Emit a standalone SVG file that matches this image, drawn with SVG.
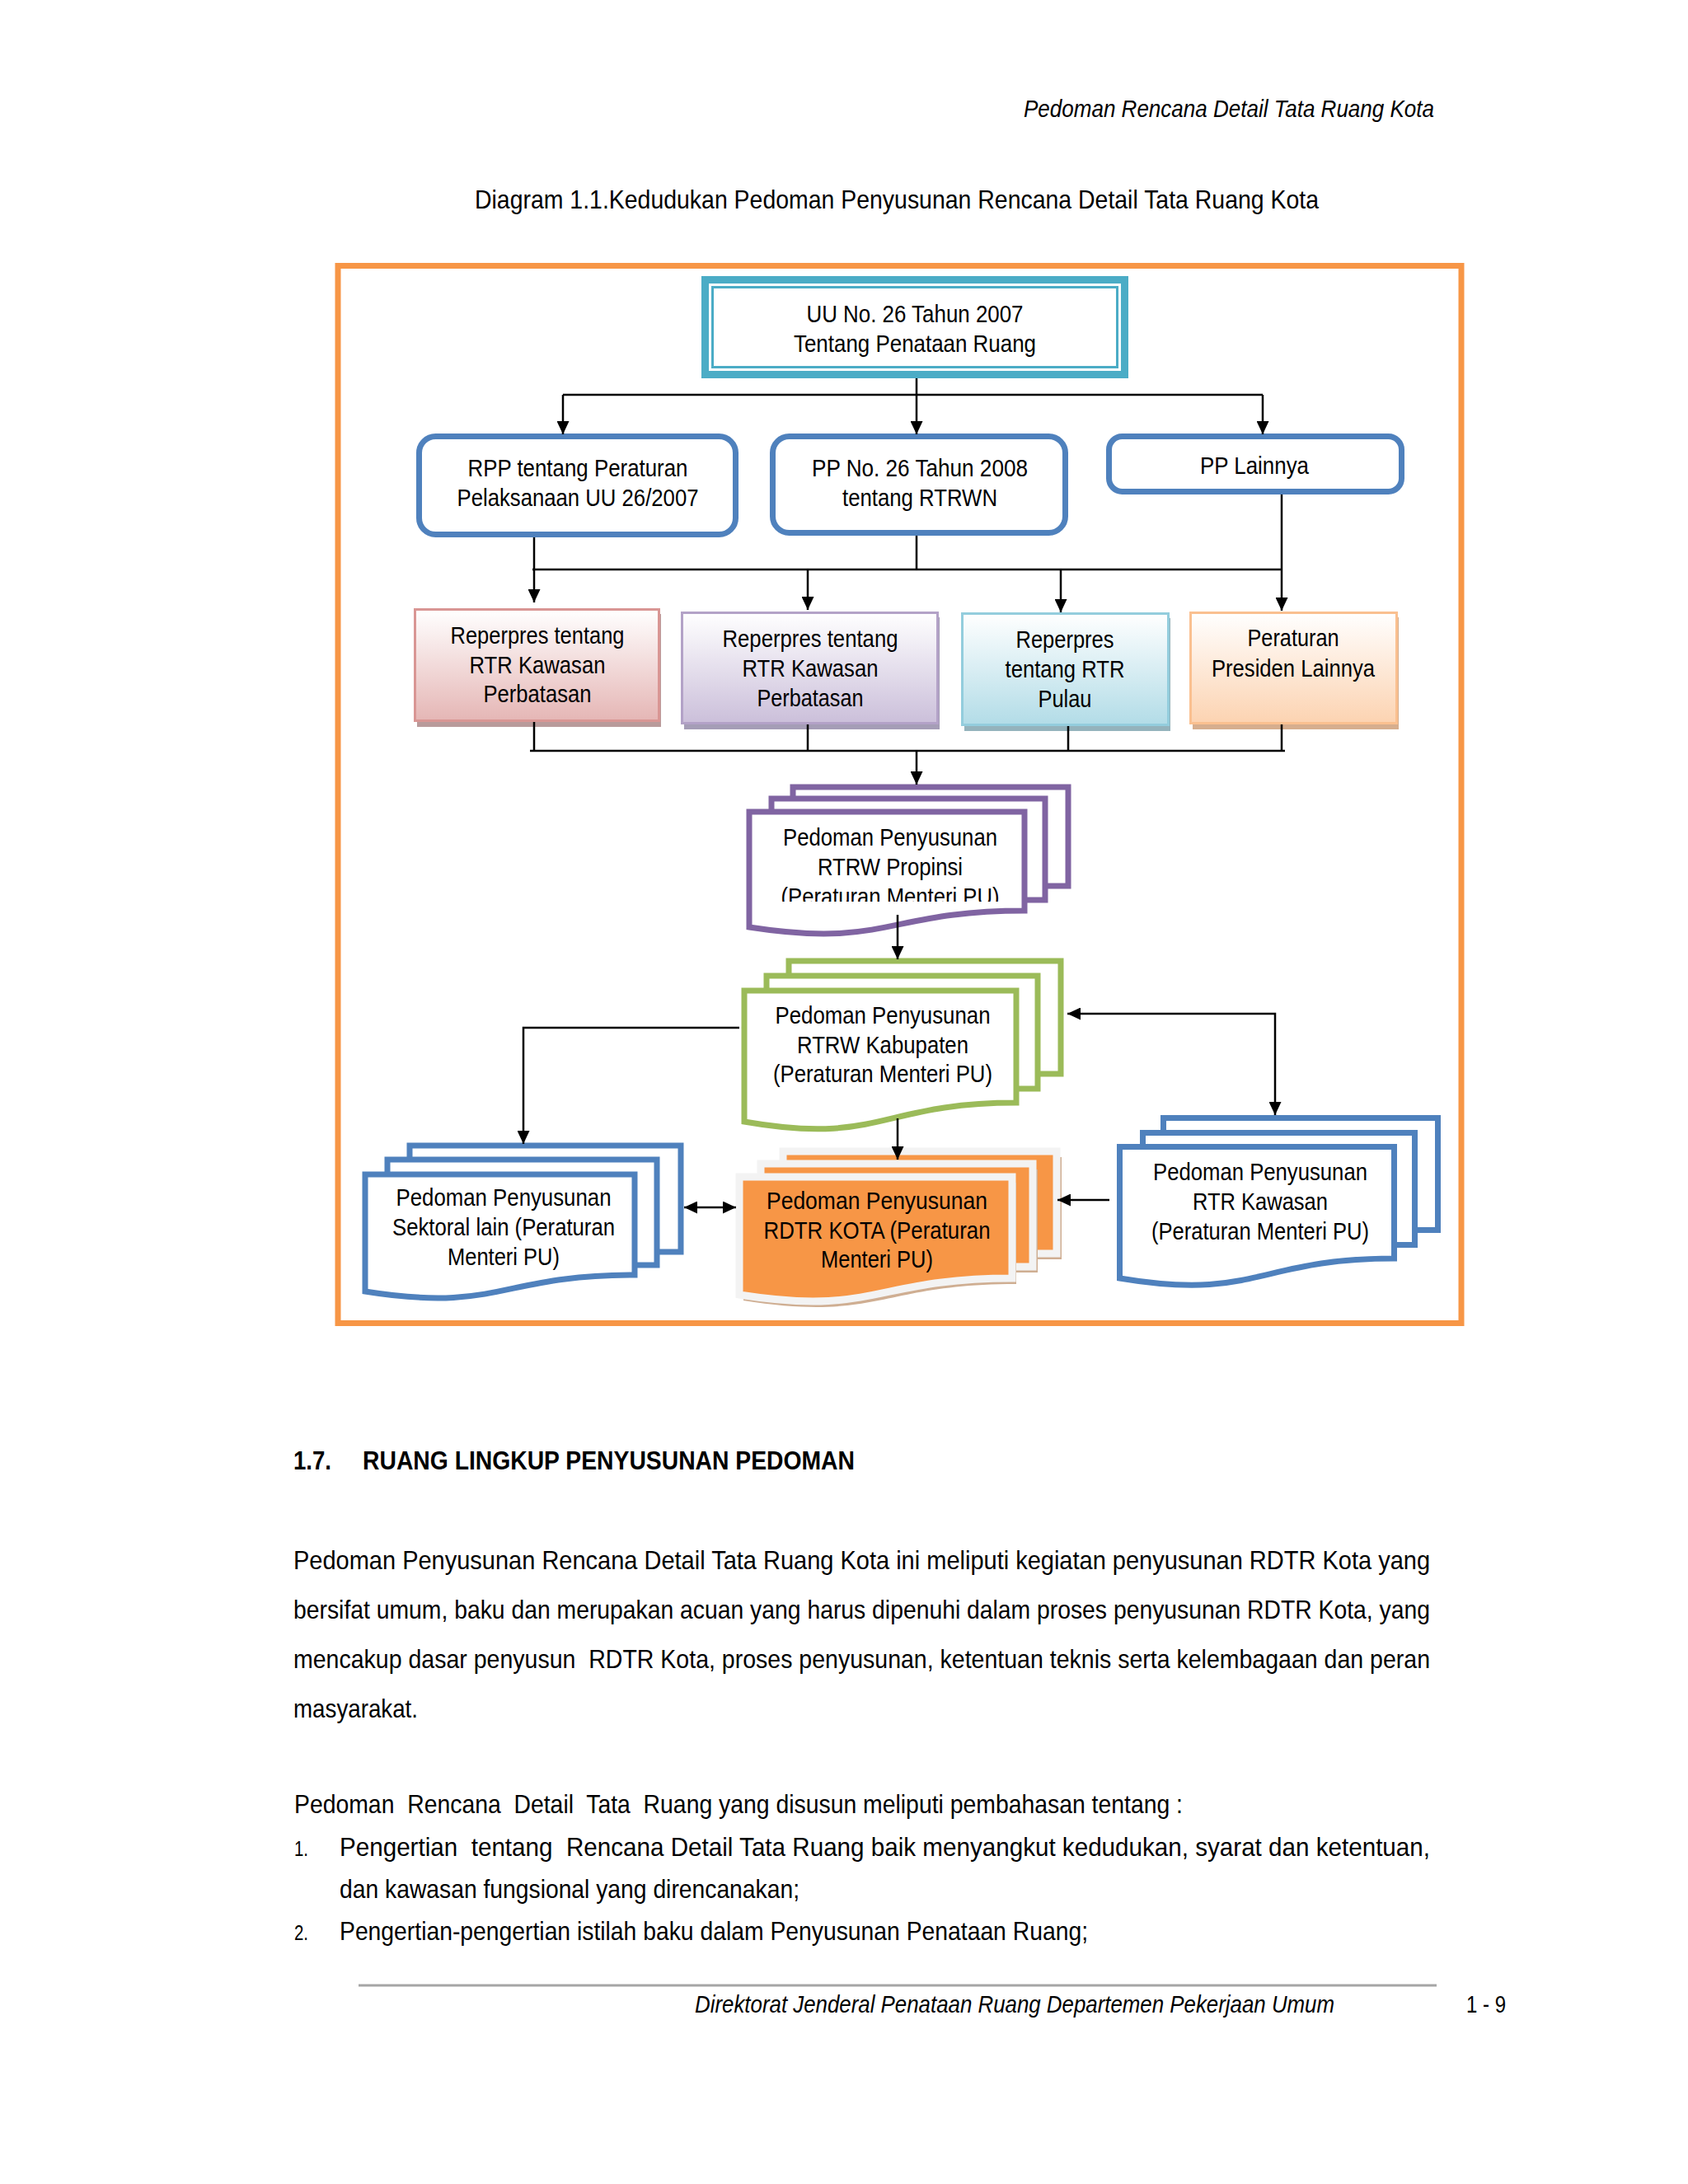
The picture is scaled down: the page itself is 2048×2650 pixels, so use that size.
<svg xmlns="http://www.w3.org/2000/svg" width="2048" height="2650" viewBox="0 0 2048 2650">
<style>
text{font-family:"Liberation Sans",Arial,sans-serif;fill:#000;}
.d{font-size:29px;text-anchor:middle;}
.b{font-size:32px;}
.it{font-style:italic;font-size:29px;}
.con{fill:none;stroke:#000;stroke-width:2.5;}
.blue{fill:#fff;stroke:#4F81BD;stroke-width:7;}
.purple{fill:#fff;stroke:#8064A2;stroke-width:7;}
.green{fill:#fff;stroke:#9BBB59;stroke-width:7;}
.kota{fill:#F79646;stroke:#F3F3F3;stroke-width:9;}
.kshadow{fill:#CFAE92;}
</style>
<defs>
<marker id="ah" markerUnits="userSpaceOnUse" markerWidth="16" markerHeight="15" refX="16" refY="7.5" orient="auto-start-reverse">
<path d="M0,0 L16,7.5 L0,15 Z" fill="#000"/>
</marker>
<linearGradient id="g1" x1="0" y1="0" x2="0" y2="1"><stop offset="0" stop-color="#FFFFFF"/><stop offset="1" stop-color="#E5B6B5"/></linearGradient>
<linearGradient id="g2" x1="0" y1="0" x2="0" y2="1"><stop offset="0" stop-color="#FFFFFF"/><stop offset="1" stop-color="#CBBFDA"/></linearGradient>
<linearGradient id="g3" x1="0" y1="0" x2="0" y2="1"><stop offset="0" stop-color="#FFFFFF"/><stop offset="1" stop-color="#B2DCE7"/></linearGradient>
<linearGradient id="g4" x1="0" y1="0" x2="0" y2="1"><stop offset="0" stop-color="#FFFFFF"/><stop offset="1" stop-color="#FCD3B1"/></linearGradient>
<clipPath id="clipProp"><rect x="900" y="990" width="350" height="104"/></clipPath>
</defs>
<rect width="2048" height="2650" fill="#fff"/>

<!-- page header -->
<text class="it" x="1242" y="142" textLength="498" lengthAdjust="spacingAndGlyphs">Pedoman Rencana Detail Tata Ruang Kota</text>
<text class="b" x="576" y="253" textLength="1024" lengthAdjust="spacingAndGlyphs">Diagram 1.1.Kedudukan Pedoman Penyusunan Rencana Detail Tata Ruang Kota</text>

<!-- frame -->
<rect x="410" y="322.5" width="1363" height="1283" fill="none" stroke="#F79646" stroke-width="7"/>

<!-- UU -->
<g id="uu">
<rect x="855.5" y="339.5" width="509" height="115" fill="#fff" stroke="#4BACC6" stroke-width="9"/>
<rect x="864.5" y="348.5" width="491" height="97" fill="#fff" stroke="#4BACC6" stroke-width="3"/>
<text class="d" x="1110" y="391" textLength="263" lengthAdjust="spacingAndGlyphs">UU No. 26 Tahun 2007</text>
<text class="d" x="1110" y="427" textLength="294" lengthAdjust="spacingAndGlyphs">Tentang Penataan Ruang</text>
</g>

<!-- level 2 -->
<g id="rpp">
<rect class="blue" x="508.5" y="529.5" width="384" height="119" rx="20"/>
<text class="d" x="701" y="578" textLength="267" lengthAdjust="spacingAndGlyphs">RPP tentang Peraturan</text>
<text class="d" x="701" y="614" textLength="293" lengthAdjust="spacingAndGlyphs">Pelaksanaan UU 26/2007</text>
</g>
<g id="pp26">
<rect class="blue" x="937.5" y="529.5" width="355" height="117" rx="20"/>
<text class="d" x="1116" y="578" textLength="262" lengthAdjust="spacingAndGlyphs">PP No. 26 Tahun 2008</text>
<text class="d" x="1116" y="614" textLength="188" lengthAdjust="spacingAndGlyphs">tentang RTRWN</text>
</g>
<g id="pplain">
<rect class="blue" x="1345.5" y="529.5" width="355" height="67" rx="16"/>
<text class="d" x="1522" y="575" textLength="132" lengthAdjust="spacingAndGlyphs">PP Lainnya</text>
</g>

<!-- level 3 -->
<g id="rep1">
<rect x="506" y="745" width="296" height="137" fill="#B99B9B"/>
<rect x="503.5" y="739.5" width="296" height="135" fill="url(#g1)" stroke="#D99694" stroke-width="3"/>
<text class="d" x="652" y="781" textLength="211" lengthAdjust="spacingAndGlyphs">Reperpres tentang</text>
<text class="d" x="652" y="817" textLength="165" lengthAdjust="spacingAndGlyphs">RTR Kawasan</text>
<text class="d" x="652" y="852" textLength="131" lengthAdjust="spacingAndGlyphs">Perbatasan</text>
</g>
<g id="rep2">
<rect x="830" y="749" width="310" height="136" fill="#A59DB6"/>
<rect x="827.5" y="743.5" width="310" height="134" fill="url(#g2)" stroke="#B3A2C7" stroke-width="3"/>
<text class="d" x="983" y="785" textLength="213" lengthAdjust="spacingAndGlyphs">Reperpres tentang</text>
<text class="d" x="983" y="821" textLength="165" lengthAdjust="spacingAndGlyphs">RTR Kawasan</text>
<text class="d" x="983" y="857" textLength="129" lengthAdjust="spacingAndGlyphs">Perbatasan</text>
</g>
<g id="rep3">
<rect x="1170" y="750" width="250" height="137" fill="#94B3BC"/>
<rect x="1167.5" y="744.5" width="250" height="135" fill="url(#g3)" stroke="#93CDDD" stroke-width="3"/>
<text class="d" x="1292" y="786" textLength="119" lengthAdjust="spacingAndGlyphs">Reperpres</text>
<text class="d" x="1292" y="822" textLength="145" lengthAdjust="spacingAndGlyphs">tentang RTR</text>
<text class="d" x="1292" y="858" textLength="65" lengthAdjust="spacingAndGlyphs">Pulau</text>
</g>
<g id="perpres">
<rect x="1447" y="749" width="250" height="136" fill="#D6AE8E"/>
<rect x="1444.5" y="743.5" width="250" height="134" fill="url(#g4)" stroke="#FAC090" stroke-width="3"/>
<text class="d" x="1569" y="784" textLength="111" lengthAdjust="spacingAndGlyphs">Peraturan</text>
<text class="d" x="1569" y="821" textLength="198" lengthAdjust="spacingAndGlyphs">Presiden Lainnya</text>
</g>

<!-- Propinsi -->
<g id="propinsi">
<rect class="purple" x="962" y="955" width="334" height="120"/>
<rect class="purple" x="936" y="969" width="332" height="123"/>
<path class="purple" d="M909,985 H1243 V1105 C1076,1105 1076,1151 909,1125 Z"/>
<g clip-path="url(#clipProp)">
<text class="d" x="1080" y="1026" textLength="260" lengthAdjust="spacingAndGlyphs">Pedoman Penyusunan</text>
<text class="d" x="1080" y="1062" textLength="176" lengthAdjust="spacingAndGlyphs">RTRW Propinsi</text>
<text class="d" x="1080" y="1098" textLength="265" lengthAdjust="spacingAndGlyphs">(Peraturan Menteri PU)</text>
</g>
</g>

<!-- Kabupaten -->
<g id="kabupaten">
<rect class="green" x="957" y="1166" width="330" height="137"/>
<rect class="green" x="930" y="1184" width="329" height="137"/>
<path class="green" d="M903,1202 H1233 V1338 C1068,1338 1068,1390 903,1361 Z"/>
<text class="d" x="1071" y="1242" textLength="261" lengthAdjust="spacingAndGlyphs">Pedoman Penyusunan</text>
<text class="d" x="1071" y="1278" textLength="208" lengthAdjust="spacingAndGlyphs">RTRW Kabupaten</text>
<text class="d" x="1071" y="1313" textLength="266" lengthAdjust="spacingAndGlyphs">(Peraturan Menteri PU)</text>
</g>

<!-- Sektoral -->
<g id="sektoral">
<rect class="blue" x="497" y="1390" width="329" height="129"/>
<rect class="blue" x="470" y="1407" width="327" height="128"/>
<path class="blue" d="M443,1425 H770 V1547 C606,1547 606,1593 443,1567 Z"/>
<text class="d" x="611" y="1463" textLength="261" lengthAdjust="spacingAndGlyphs">Pedoman Penyusunan</text>
<text class="d" x="611" y="1499" textLength="270" lengthAdjust="spacingAndGlyphs">Sektoral lain (Peraturan</text>
<text class="d" x="611" y="1535" textLength="136" lengthAdjust="spacingAndGlyphs">Menteri PU)</text>
</g>

<!-- KOTA -->
<g id="kota">
<rect class="kshadow" x="956" y="1404" width="332" height="124"/>
<rect class="kota" x="950" y="1397" width="332" height="124"/>
<rect class="kshadow" x="929" y="1419" width="330" height="125"/>
<rect class="kota" x="923" y="1412" width="330" height="125"/>
<path class="kshadow" transform="translate(5,7)" d="M897,1428 H1228 V1551 C1062,1551 1062,1597 897,1571 Z"/>
<path class="kota" d="M897,1428 H1228 V1551 C1062,1551 1062,1597 897,1571 Z"/>
<text class="d" x="1064" y="1467" textLength="268" lengthAdjust="spacingAndGlyphs">Pedoman Penyusunan</text>
<text class="d" x="1064" y="1503" textLength="275" lengthAdjust="spacingAndGlyphs">RDTR KOTA (Peraturan</text>
<text class="d" x="1064" y="1538" textLength="136" lengthAdjust="spacingAndGlyphs">Menteri PU)</text>
</g>

<!-- Kawasan -->
<g id="kawasan">
<rect class="blue" x="1411.5" y="1356.5" width="333" height="136"/>
<rect class="blue" x="1386.5" y="1374.5" width="330" height="136"/>
<path class="blue" d="M1358.5,1391.5 H1691.5 V1527 C1525,1527 1525,1579 1358.5,1551 Z"/>
<text class="d" x="1529" y="1432" textLength="260" lengthAdjust="spacingAndGlyphs">Pedoman Penyusunan</text>
<text class="d" x="1529" y="1468" textLength="164" lengthAdjust="spacingAndGlyphs">RTR Kawasan</text>
<text class="d" x="1529" y="1504" textLength="264" lengthAdjust="spacingAndGlyphs">(Peraturan Menteri PU)</text>
</g>

<!-- connectors -->
<g id="connectors">
<path class="con" d="M1112,459 V479 M683,479 H1532"/>
<path class="con" d="M683,479 V527" marker-end="url(#ah)"/>
<path class="con" d="M1112,479 V527" marker-end="url(#ah)"/>
<path class="con" d="M1532,479 V527" marker-end="url(#ah)"/>
<path class="con" d="M1112,650 V691 M646,691 H1556"/>
<path class="con" d="M648,652 V731" marker-end="url(#ah)"/>
<path class="con" d="M1555,600 V741" marker-end="url(#ah)"/>
<path class="con" d="M980,691 V740" marker-end="url(#ah)"/>
<path class="con" d="M1287,691 V743" marker-end="url(#ah)"/>
<path class="con" d="M648,876 V911 M980,879 V911 M1296,881 V911 M1555,879 V911 M643,911 H1559"/>
<path class="con" d="M1112,911 V952" marker-end="url(#ah)"/>
<path class="con" d="M1089,1110 V1164" marker-end="url(#ah)"/>
<path class="con" d="M1089,1357 V1407" marker-end="url(#ah)"/>
<path class="con" d="M897,1247 H635 V1388" marker-end="url(#ah)"/>
<path class="con" d="M830,1465 H893" marker-start="url(#ah)" marker-end="url(#ah)"/>
<path class="con" d="M1346,1456 H1283" marker-end="url(#ah)"/>
<path class="con" d="M1295,1230 H1547 V1353" marker-start="url(#ah)" marker-end="url(#ah)"/>
</g>

<!-- body text -->
<text class="b" x="356" y="1783" font-weight="bold" textLength="46" lengthAdjust="spacingAndGlyphs">1.7.</text>
<text class="b" x="440" y="1783" font-weight="bold" textLength="597" lengthAdjust="spacingAndGlyphs">RUANG LINGKUP PENYUSUNAN PEDOMAN</text>
<text class="b" x="356" y="1904" textLength="1379" lengthAdjust="spacingAndGlyphs">Pedoman Penyusunan Rencana Detail Tata Ruang Kota ini meliputi kegiatan penyusunan RDTR Kota yang</text>
<text class="b" x="356" y="1964" textLength="1379" lengthAdjust="spacingAndGlyphs">bersifat umum, baku dan merupakan acuan yang harus dipenuhi dalam proses penyusunan RDTR Kota, yang</text>
<text class="b" x="356" y="2024" textLength="1379" lengthAdjust="spacingAndGlyphs" xml:space="preserve">mencakup dasar penyusun  RDTR Kota, proses penyusunan, ketentuan teknis serta kelembagaan dan peran</text>
<text class="b" x="356" y="2084" textLength="151" lengthAdjust="spacingAndGlyphs">masyarakat.</text>
<text class="b" x="357" y="2200" textLength="1078" lengthAdjust="spacingAndGlyphs" xml:space="preserve">Pedoman  Rencana  Detail  Tata  Ruang yang disusun meliputi pembahasan tentang :</text>
<text x="357" y="2252" font-size="26" textLength="17" lengthAdjust="spacingAndGlyphs">1.</text>
<text class="b" x="412" y="2252" textLength="1323" lengthAdjust="spacingAndGlyphs" xml:space="preserve">Pengertian  tentang  Rencana Detail Tata Ruang baik menyangkut kedudukan, syarat dan ketentuan,</text>
<text class="b" x="412" y="2303" textLength="558" lengthAdjust="spacingAndGlyphs">dan kawasan fungsional yang direncanakan;</text>
<text x="357" y="2354" font-size="26" textLength="17" lengthAdjust="spacingAndGlyphs">2.</text>
<text class="b" x="412" y="2354" textLength="908" lengthAdjust="spacingAndGlyphs">Pengertian-pengertian istilah baku dalam Penyusunan Penataan Ruang;</text>

<!-- footer -->
<line x1="435" y1="2409" x2="1743" y2="2409" stroke="#A6A6A6" stroke-width="3"/>
<text class="it" x="843" y="2442" textLength="776" lengthAdjust="spacingAndGlyphs">Direktorat Jenderal Penataan Ruang Departemen Pekerjaan Umum</text>
<text x="1779" y="2442" font-size="29" textLength="48" lengthAdjust="spacingAndGlyphs">1 - 9</text>
</svg>
